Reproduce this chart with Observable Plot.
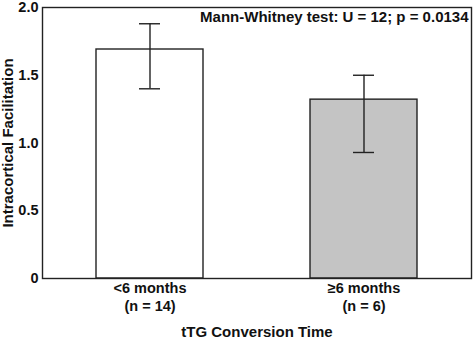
<!DOCTYPE html>
<html>
<head>
<meta charset="utf-8">
<script src="https://cdn.jsdelivr.net/npm/d3@7"></script>
<script src="https://cdn.jsdelivr.net/npm/@observablehq/plot@0.6"></script>
<style>
  html, body { margin: 0; padding: 0; background: #fff; }
  #chart svg { display: block; }
</style>
</head>
<body>
<div id="chart"></div>
<script>
const groups = ["<6 months", "≥6 months"];
const groupN = [14, 6];
const means = [1.69, 1.32];
const upper = [1.88, 1.50];
const lower = [1.40, 0.93];
const fills = ["#ffffff", "#c4c4c4"];
const yTicks = [0, 0.5, 1.0, 1.5, 2.0];
const annotation = "Mann-Whitney test: U = 12; p = 0.0134";

const data = groups.map((g, i) => ({group: g, n: groupN[i], mean: means[i], hi: upper[i], lo: lower[i], fill: fills[i]}));

const chart = Plot.plot({
  width: 474,
  height: 338,
  marginLeft: 42,
  marginRight: 3,
  marginTop: 7,
  marginBottom: 60,
  style: {fontFamily: "'Liberation Sans', Arial, sans-serif", fontWeight: "bold", fontSize: "14.5px", color: "#111", background: "#fff"},
  x: {domain: groups, paddingInner: 0.5, paddingOuter: 0.25},
  y: {domain: [0, 2]},
  marks: [
    Plot.barY(data, {x: "group", y: "mean", fill: "fill", stroke: "#222", strokeWidth: 1.4}),
    Plot.ruleX(data, {x: "group", y1: "lo", y2: "hi", stroke: "#222", strokeWidth: 1.4}),
    Plot.tickY(data, {x: "group", y: "hi", insetLeft: 43, insetRight: 43, stroke: "#222", strokeWidth: 1.4}),
    Plot.tickY(data, {x: "group", y: "lo", insetLeft: 43, insetRight: 43, stroke: "#222", strokeWidth: 1.4}),
    Plot.frame({stroke: "#222", strokeWidth: 1.4}),
    Plot.axisY({ticks: yTicks, label: null, tickSize: 0, tickPadding: 4, tickFormat: d => d === 0 ? "0" : d.toFixed(1), fontSize: 14.5}),
    Plot.axisY({ticks: [], label: "Intracortical Facilitation", labelAnchor: "center", labelArrow: "none", labelOffset: 40, fontSize: 15}),
    Plot.axisX({label: null, tickSize: 0, tickPadding: 2, lineHeight: 1.25, fontSize: 14.5,
      tickFormat: d => d + "\n(n = " + groupN[groups.indexOf(d)] + ")"}),
    Plot.axisX({ticks: [], label: "tTG Conversion Time", labelAnchor: "center", labelArrow: "none", labelOffset: 58, fontSize: 15}),
    Plot.text([annotation], {text: d => d, frameAnchor: "top-right", dx: -3, dy: 4, lineAnchor: "top", fontSize: 15, fill: "#111"})
  ]
});
document.getElementById("chart").append(chart);
</script>
</body>
</html>
